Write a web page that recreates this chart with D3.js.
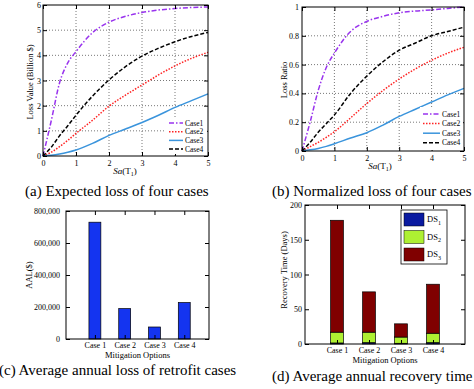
<html>
<head>
<script src="https://d3js.org/d3.v7.min.js"></script>
<style>
body { margin: 0; background: #fff; }
svg text { font-family: "Liberation Serif", "DejaVu Serif", "Times New Roman", serif; }
</style>
</head>
<body>
<script>
// sa values along the x axis of the two curve plots
var saValues = [0, 0.25, 0.5, 0.75, 1, 1.5, 2, 2.5, 3, 3.5, 4, 4.5, 5];
var saTicks = [0, 1, 2, 3, 4, 5];

// (a) loss value, billion $
var lossCase1 = [0, 1.4, 2.9, 3.7, 4.15, 4.9, 5.32, 5.55, 5.7, 5.8, 5.86, 5.9, 5.92];
var lossCase2 = [0, 0.15, 0.37, 0.62, 0.9, 1.42, 1.98, 2.42, 2.82, 3.22, 3.58, 3.88, 4.12];
var lossCase3 = [0, 0.03, 0.08, 0.15, 0.24, 0.5, 0.82, 1.07, 1.33, 1.62, 1.93, 2.2, 2.47];
var lossCase4 = [0, 0.35, 0.8, 1.2, 1.62, 2.38, 3.02, 3.55, 3.97, 4.28, 4.54, 4.75, 4.91];
var lossTicks = [0, 1, 2, 3, 4, 5, 6];

// (b) loss ratio
var ratioCase1 = [0, 0.2, 0.42, 0.58, 0.68, 0.83, 0.9, 0.935, 0.96, 0.972, 0.98, 0.99, 1.0];
var ratioCase2 = [0, 0.03, 0.06, 0.095, 0.134, 0.23, 0.33, 0.42, 0.5, 0.57, 0.63, 0.68, 0.72];
var ratioCase3 = [0, 0.008, 0.018, 0.032, 0.05, 0.09, 0.127, 0.18, 0.24, 0.29, 0.34, 0.39, 0.435];
var ratioCase4 = [0, 0.06, 0.13, 0.19, 0.25, 0.4, 0.52, 0.62, 0.7, 0.75, 0.8, 0.83, 0.86];
var ratioTicks = [0, 0.2, 0.4, 0.6, 0.8, 1];

var caseNames = ["Case1", "Case2", "Case3", "Case4"];

// (c) average annual loss
var optionLabels = ["Case 1", "Case 2", "Case 3", "Case 4"];
var aalValues = [730000, 190000, 75000, 228000];
var aalTicks = [0, 200000, 400000, 600000, 800000];

// (d) recovery time in days per damage state
var ds1Days = [1.5, 2, 1, 2];
var ds2Days = [15.5, 15, 9, 13.5];
var ds3Days = [161, 58, 19, 70.5];
var dayTicks = [0, 50, 100, 150, 200];
var dsNames = ["1", "2", "3"];

var serif = "Liberation Serif, DejaVu Serif, serif";
var lineColors = ["#9933ee", "#ff2222", "#3a94dc", "#000000"];
var lineDash = ["5,2,1.5,2", "1.5,1.5", null, "4,2"];
var dsColors = ["#0a1aa0", "#aef032", "#800000"];

var svg = d3.select("body").append("svg")
	.attr("width", 474)
	.attr("height", 389);

function styleAxis(g) {
	g.attr("font-family", serif).attr("font-size", 8);
	g.select(".domain").remove();
	g.selectAll("line").attr("stroke", "#000");
	g.selectAll("text").attr("fill", "#000");
}

function frameAxes(g, x, y, p, xTicks, yTicks, xFormat, yFormat) {
	g.append("g").attr("transform", "translate(0," + p.bottom + ")")
		.call(d3.axisBottom(x).tickValues(xTicks).tickFormat(xFormat).tickSize(-4).tickSizeOuter(0).tickPadding(p.xPad))
		.call(styleAxis);
	g.append("g").attr("transform", "translate(0," + p.top + ")")
		.call(d3.axisTop(x).tickValues(xTicks).tickFormat("").tickSize(-4).tickSizeOuter(0))
		.call(styleAxis);
	g.append("g").attr("transform", "translate(" + p.left + ",0)")
		.call(d3.axisLeft(y).tickValues(yTicks).tickFormat(yFormat).tickSize(-4).tickSizeOuter(0).tickPadding(p.yPad))
		.call(styleAxis);
	g.append("g").attr("transform", "translate(" + p.right + ",0)")
		.call(d3.axisRight(y).tickValues(yTicks).tickFormat("").tickSize(-4).tickSizeOuter(0))
		.call(styleAxis);
	g.append("rect")
		.attr("x", p.left).attr("y", p.top)
		.attr("width", p.right - p.left).attr("height", p.bottom - p.top)
		.attr("fill", "none").attr("stroke", "#000").attr("stroke-width", 1);
}

function yLabel(text, cx, cy) {
	svg.append("text")
		.attr("transform", "translate(" + cx + "," + cy + ") rotate(-90)")
		.attr("text-anchor", "middle")
		.attr("font-size", 8.5)
		.text(text);
}

function saLabel(cx, by) {
	var t = svg.append("text").attr("x", cx).attr("y", by)
		.attr("text-anchor", "middle").attr("font-size", 9);
	t.append("tspan").attr("font-style", "italic").text("Sa");
	t.append("tspan").text("(T");
	t.append("tspan").attr("font-size", 6).attr("dy", 2).text("1");
	t.append("tspan").attr("dy", -2).text(")");
}

function linePanel(p) {
	var x = d3.scaleLinear().domain([0, 5]).range([p.left, p.right]);
	var y = d3.scaleLinear().domain([0, p.yMax]).range([p.bottom, p.top]);
	var g = svg.append("g");

	// dotted grid
	g.selectAll(".vg").data(saTicks.slice(1, -1)).enter().append("line")
		.attr("x1", function (d) { return x(d); }).attr("x2", function (d) { return x(d); })
		.attr("y1", p.top).attr("y2", p.bottom)
		.attr("stroke", "#555").attr("stroke-width", 0.8).attr("stroke-dasharray", "1,2");
	g.selectAll(".hg").data(p.yTicks.slice(1, -1)).enter().append("line")
		.attr("x1", p.left).attr("x2", p.right)
		.attr("y1", function (d) { return y(d); }).attr("y2", function (d) { return y(d); })
		.attr("stroke", "#555").attr("stroke-width", 0.8).attr("stroke-dasharray", "1,2");

	var line = d3.line()
		.x(function (d, j) { return x(saValues[j]); })
		.y(function (d) { return y(d); })
		.curve(d3.curveMonotoneX);

	p.series.forEach(function (s, i) {
		g.append("path").datum(s)
			.attr("d", line)
			.attr("fill", "none")
			.attr("stroke", lineColors[i])
			.attr("stroke-width", 1.5)
			.attr("stroke-dasharray", lineDash[i]);
	});

	frameAxes(g, x, y, p, saTicks, p.yTicks, d3.format("d"), p.yFormat);

	// legend
	var lg = p.legend;
	g.append("rect").attr("x", lg.x).attr("y", lg.y)
		.attr("width", lg.w).attr("height", lg.h).attr("fill", "#fff");
	caseNames.forEach(function (name, i) {
		var yy = lg.row0 + i * lg.step;
		g.append("line")
			.attr("x1", lg.lx1).attr("x2", lg.lx2).attr("y1", yy).attr("y2", yy)
			.attr("stroke", lineColors[i]).attr("stroke-width", 1.5)
			.attr("stroke-dasharray", lineDash[i]);
		g.append("text").attr("x", lg.tx).attr("y", yy + 2.5)
			.attr("font-size", 7.5).text(name);
	});
}

linePanel({
	left: 43, right: 208, top: 5, bottom: 156, yPad: 2, xPad: 4,
	yMax: 6, yTicks: lossTicks, yFormat: d3.format("d"),
	series: [lossCase1, lossCase2, lossCase3, lossCase4],
	legend: { x: 166, y: 118, w: 41, h: 36, row0: 123, step: 8.7, lx1: 169, lx2: 183, tx: 185 }
});
yLabel("Loss Value (Billion $)", 33, 82);
saLabel(125, 174);

linePanel({
	left: 302, right: 464, top: 7, bottom: 151, yPad: 3, xPad: 4,
	yMax: 1, yTicks: ratioTicks, yFormat: function (d) { return d === 0 || d === 1 ? d3.format("d")(d) : d3.format(".1f")(d); },
	series: [ratioCase1, ratioCase2, ratioCase3, ratioCase4],
	legend: { x: 420, y: 107, w: 43, h: 43, row0: 114, step: 9.6, lx1: 423, lx2: 440, tx: 442 }
});
yLabel("Loss Ratio", 287, 80);
saLabel(380, 169);

// (c) bars
(function () {
	var p = { left: 66, right: 209, top: 211, bottom: 339, yPad: 6, xPad: 3 };
	var x = d3.scaleBand().domain(optionLabels).range([p.left, p.right])
		.paddingInner(0.6).paddingOuter(0.7).align(0.55);
	var y = d3.scaleLinear().domain([0, 800000]).range([p.bottom, p.top]);
	var g = svg.append("g");
	g.selectAll(".bar").data(aalValues).enter().append("rect")
		.attr("x", function (d, i) { return x(optionLabels[i]); })
		.attr("y", function (d) { return y(d); })
		.attr("width", x.bandwidth())
		.attr("height", function (d) { return p.bottom - y(d); })
		.attr("fill", "#1434f0").attr("stroke", "#000").attr("stroke-width", 0.7);
	var xc = d3.scalePoint().domain(optionLabels)
		.range([x(optionLabels[0]) + x.bandwidth() / 2, x(optionLabels[3]) + x.bandwidth() / 2]);
	frameAxes(g, xc, y, p, optionLabels, aalTicks, null, d3.format(","));
	yLabel("AAL($)", 32, 275);
	svg.append("text").attr("x", (p.left + p.right) / 2).attr("y", 358)
		.attr("text-anchor", "middle").attr("font-size", 8.5).text("Mitigation Options");
})();

// (d) stacked bars
(function () {
	var p = { left: 305, right: 465, top: 205, bottom: 344, yPad: 3, xPad: 3 };
	var rows = optionLabels.map(function (c, i) {
		return { option: c, ds1: ds1Days[i], ds2: ds2Days[i], ds3: ds3Days[i] };
	});
	var stacked = d3.stack().keys(["ds1", "ds2", "ds3"])(rows);
	var x = d3.scaleBand().domain(optionLabels).range([p.left, p.right])
		.paddingInner(0.6).paddingOuter(0.8).align(0.5);
	var y = d3.scaleLinear().domain([0, 200]).range([p.bottom, p.top]);
	var g = svg.append("g");
	stacked.forEach(function (layer, k) {
		g.selectAll(".l" + k).data(layer).enter().append("rect")
			.attr("x", function (d) { return x(d.data.option); })
			.attr("y", function (d) { return y(d[1]); })
			.attr("width", x.bandwidth())
			.attr("height", function (d) { return y(d[0]) - y(d[1]); })
			.attr("fill", dsColors[k]).attr("stroke", "#000").attr("stroke-width", 0.7);
	});
	var xc = d3.scalePoint().domain(optionLabels)
		.range([x(optionLabels[0]) + x.bandwidth() / 2, x(optionLabels[3]) + x.bandwidth() / 2]);
	frameAxes(g, xc, y, p, optionLabels, dayTicks, null, d3.format("d"));
	yLabel("Recovery Time (Days)", 287, 270);
	svg.append("text").attr("x", (p.left + p.right) / 2).attr("y", 363)
		.attr("text-anchor", "middle").attr("font-size", 8.5).text("Mitigation Options");

	// legend box
	g.append("rect").attr("x", 401).attr("y", 210).attr("width", 46).attr("height", 54)
		.attr("fill", "#fff").attr("stroke", "#000").attr("stroke-width", 0.8);
	dsNames.forEach(function (n, k) {
		var yy = 213 + k * 17.5;
		g.append("rect").attr("x", 404).attr("y", yy).attr("width", 20).attr("height", 13)
			.attr("fill", dsColors[k]).attr("stroke", "#000").attr("stroke-width", 0.5);
		var t = g.append("text").attr("x", 427).attr("y", yy + 9).attr("font-size", 8.5);
		t.append("tspan").text("DS");
		t.append("tspan").attr("font-size", 6).attr("dy", 2.5).text(n);
	});
})();

// captions
var captions = [
	{ text: "(a) Expected loss of four cases", x: 25, y: 196 },
	{ text: "(b) Normalized loss of four cases", x: 272, y: 196 },
	{ text: "(c) Average annual loss of retrofit cases", x: -1, y: 375 },
	{ text: "(d) Average annual recovery time", x: 272, y: 381 }
];
svg.selectAll(".cap").data(captions).enter().append("text")
	.attr("x", function (d) { return d.x; })
	.attr("y", function (d) { return d.y; })
	.attr("font-size", 15)
	.text(function (d) { return d.text; });
</script>
</body>
</html>
